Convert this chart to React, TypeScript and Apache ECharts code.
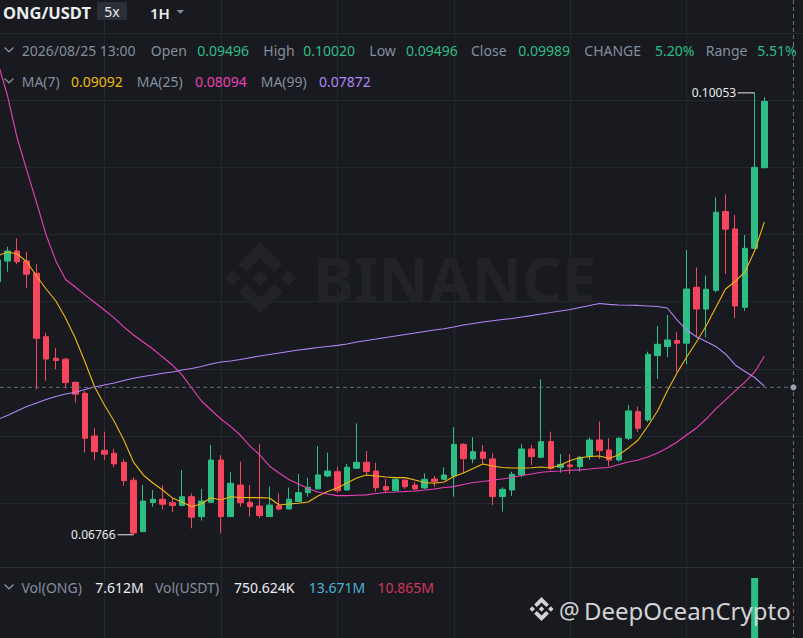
import React, { useEffect, useRef } from "react";
import * as echarts from "echarts";

// ---------- data ----------
const pad = (n: number) => String(n).padStart(2, "0");
const START_UTC = Date.UTC(2026, 7, 22, 6, 0);
const SLOT_COUNT = 84; // 80 candles + empty future slots on the right
const TIMES: string[] = Array.from({ length: SLOT_COUNT }, (_, i) => {
  const d = new Date(START_UTC + i * 3600000);
  return `${d.getUTCFullYear()}/${pad(d.getUTCMonth() + 1)}/${pad(d.getUTCDate())} ${pad(d.getUTCHours())}:00`;
});

const OPEN = [0.08648, 0.08802, 0.08877, 0.08802, 0.08711, 0.08239, 0.08079, 0.08072, 0.07900, 0.07818,
  0.07501, 0.07394, 0.07372, 0.07305, 0.07172, 0.06790, 0.07006, 0.07030, 0.07005, 0.06984,
  0.07049, 0.06901, 0.07008, 0.07322, 0.06901, 0.07136, 0.07008, 0.06980, 0.06901, 0.06982,
  0.06958, 0.07013, 0.07079, 0.07107, 0.07203, 0.07235, 0.07099, 0.07261, 0.07305, 0.07240,
  0.07124, 0.07094, 0.07173, 0.07136, 0.07114, 0.07181, 0.07179, 0.07203, 0.07439, 0.07330,
  0.07382, 0.07330, 0.07050, 0.07099, 0.07211, 0.07404, 0.07343, 0.07459, 0.07268, 0.07285,
  0.07273, 0.07347, 0.07471, 0.07397, 0.07322, 0.07484, 0.07682, 0.07620, 0.08099, 0.08166,
  0.08211, 0.08191, 0.08607, 0.08445, 0.08584, 0.09170, 0.09041, 0.08458, 0.08897, 0.09496];

const HIGH = [0.08825, 0.08909, 0.08971, 0.08872, 0.08780, 0.08270, 0.08155, 0.08083, 0.07905, 0.07836,
  0.07558, 0.07533, 0.07406, 0.07328, 0.07194, 0.07136, 0.07099, 0.07136, 0.07042, 0.07248,
  0.07074, 0.07107, 0.07434, 0.07359, 0.07231, 0.07310, 0.07136, 0.07441, 0.07124, 0.07075,
  0.07117, 0.07218, 0.07190, 0.07426, 0.07377, 0.07272, 0.07292, 0.07595, 0.07389, 0.07302,
  0.07181, 0.07194, 0.07175, 0.07161, 0.07223, 0.07203, 0.07268, 0.07566, 0.07447, 0.07491,
  0.07434, 0.07372, 0.07119, 0.07235, 0.07441, 0.07434, 0.07923, 0.07533, 0.07367, 0.07367,
  0.07352, 0.07491, 0.07608, 0.07484, 0.07491, 0.07731, 0.07719, 0.08128, 0.08319, 0.08401,
  0.08273, 0.08884, 0.08755, 0.08694, 0.09276, 0.09299, 0.09145, 0.08996, 0.10053, 0.10020];

const LOW = [0.08635, 0.08723, 0.08778, 0.08600, 0.07848, 0.07912, 0.07997, 0.07855, 0.07749, 0.07377,
  0.07322, 0.07322, 0.07268, 0.07131, 0.06766, 0.06785, 0.06975, 0.06955, 0.06935, 0.06977,
  0.06814, 0.06871, 0.07005, 0.06777, 0.06899, 0.06975, 0.06901, 0.06889, 0.06899, 0.06946,
  0.06955, 0.07010, 0.07050, 0.07105, 0.07194, 0.07079, 0.07097, 0.07259, 0.07211, 0.07086,
  0.07079, 0.07092, 0.07107, 0.07094, 0.07105, 0.07124, 0.07173, 0.07050, 0.07223, 0.07298,
  0.07292, 0.06987, 0.06938, 0.07054, 0.07194, 0.07285, 0.07335, 0.07248, 0.07228, 0.07218,
  0.07236, 0.07322, 0.07330, 0.07273, 0.07310, 0.07471, 0.07531, 0.07605, 0.07925, 0.08087,
  0.07975, 0.08036, 0.08234, 0.08234, 0.08570, 0.08706, 0.08377, 0.08431, 0.08895, 0.09496];

const CLOSE = [0.08810, 0.08877, 0.08797, 0.08704, 0.08227, 0.08073, 0.08062, 0.07898, 0.07812, 0.07484,
  0.07384, 0.07365, 0.07293, 0.07169, 0.06779, 0.07017, 0.07030, 0.06993, 0.06983, 0.07049,
  0.06897, 0.07017, 0.07322, 0.06901, 0.07149, 0.07005, 0.06975, 0.06909, 0.06987, 0.06958,
  0.07030, 0.07079, 0.07119, 0.07211, 0.07240, 0.07094, 0.07268, 0.07305, 0.07236, 0.07116,
  0.07099, 0.07179, 0.07124, 0.07107, 0.07179, 0.07161, 0.07211, 0.07439, 0.07332, 0.07384,
  0.07335, 0.07050, 0.07104, 0.07216, 0.07404, 0.07347, 0.07459, 0.07261, 0.07290, 0.07273,
  0.07342, 0.07471, 0.07392, 0.07322, 0.07484, 0.07687, 0.07558, 0.08108, 0.08183, 0.08215,
  0.08191, 0.08594, 0.08445, 0.08592, 0.09165, 0.09039, 0.08468, 0.08897, 0.09499, 0.09989];

const MA7 = [0.08840, 0.08869, 0.08855, 0.08797, 0.08691, 0.08594, 0.08505, 0.08379, 0.08230, 0.08051,
  0.07865, 0.07731, 0.07612, 0.07471, 0.07307, 0.07211, 0.07151, 0.07099, 0.07040, 0.07010,
  0.06975, 0.06997, 0.07042, 0.07025, 0.07049, 0.07043, 0.07042, 0.07042, 0.07040, 0.06988,
  0.06995, 0.07000, 0.07010, 0.07055, 0.07088, 0.07114, 0.07151, 0.07188, 0.07211, 0.07203,
  0.07196, 0.07191, 0.07191, 0.07174, 0.07155, 0.07149, 0.07159, 0.07200, 0.07226, 0.07259,
  0.07293, 0.07278, 0.07267, 0.07263, 0.07263, 0.07265, 0.07270, 0.07263, 0.07285, 0.07319,
  0.07339, 0.07348, 0.07352, 0.07335, 0.07360, 0.07412, 0.07471, 0.07575, 0.07687, 0.07836,
  0.07969, 0.08088, 0.08200, 0.08319, 0.08457, 0.08594, 0.08650, 0.08721, 0.08877, 0.09092];

const MA25 = [0.10283, 0.10037, 0.09721, 0.09479, 0.09241, 0.08996, 0.08803, 0.08665, 0.08609, 0.08550,
  0.08494, 0.08438, 0.08379, 0.08312, 0.08252, 0.08200, 0.08148, 0.08088, 0.08029, 0.07955,
  0.07858, 0.07761, 0.07694, 0.07627, 0.07572, 0.07508, 0.07426, 0.07360, 0.07278, 0.07226,
  0.07177, 0.07144, 0.07110, 0.07084, 0.07069, 0.07057, 0.07057, 0.07060, 0.07063, 0.07073,
  0.07081, 0.07084, 0.07088, 0.07092, 0.07099, 0.07107, 0.07118, 0.07124, 0.07140, 0.07155,
  0.07162, 0.07174, 0.07181, 0.07192, 0.07207, 0.07218, 0.07231, 0.07237, 0.07240, 0.07246,
  0.07249, 0.07255, 0.07263, 0.07267, 0.07289, 0.07307, 0.07322, 0.07345, 0.07374, 0.07412,
  0.07456, 0.07508, 0.07560, 0.07627, 0.07702, 0.07769, 0.07836, 0.07902, 0.07977, 0.08094];

const MA99 = [0.07624, 0.07653, 0.07687, 0.07720, 0.07746, 0.07772, 0.07795, 0.07813, 0.07826, 0.07847,
  0.07865, 0.07880, 0.07895, 0.07914, 0.07930, 0.07943, 0.07955, 0.07967, 0.07977, 0.07992,
  0.08003, 0.08018, 0.08036, 0.08051, 0.08059, 0.08070, 0.08083, 0.08096, 0.08107, 0.08118,
  0.08129, 0.08140, 0.08149, 0.08159, 0.08167, 0.08175, 0.08185, 0.08200, 0.08211, 0.08222,
  0.08234, 0.08245, 0.08256, 0.08267, 0.08278, 0.08289, 0.08299, 0.08312, 0.08326, 0.08338,
  0.08349, 0.08358, 0.08367, 0.08375, 0.08386, 0.08396, 0.08408, 0.08419, 0.08431, 0.08442,
  0.08457, 0.08472, 0.08486, 0.08480, 0.08475, 0.08473, 0.08472, 0.08468, 0.08464, 0.08453,
  0.08364, 0.08289, 0.08239, 0.08204, 0.08167, 0.08111, 0.08029, 0.07981, 0.07936, 0.07872];

// volume in millions of ONG
const VOLUME_M = [3.1, 2.4, 2.8, 3.5, 9.8, 5.2, 3.0, 4.1, 3.6, 7.9,
  5.4, 3.8, 3.3, 4.6, 9.2, 6.1, 2.7, 3.0, 2.2, 4.4,
  4.8, 3.9, 7.5, 8.8, 5.6, 4.2, 2.9, 6.3, 3.4, 2.1,
  3.0, 3.6, 2.5, 5.8, 3.3, 3.9, 4.0, 6.2, 3.1, 3.5,
  1.9, 2.3, 1.6, 1.5, 2.4, 1.7, 2.0, 7.3, 3.8, 2.6,
  2.2, 6.4, 3.5, 3.7, 4.5, 2.8, 7.8, 4.6, 2.1, 1.9,
  2.3, 3.4, 4.1, 3.0, 3.6, 5.9, 4.4, 11.2, 6.8, 5.3,
  5.1, 10.5, 7.2, 5.6, 11.9, 10.6, 11.4, 9.7, 29.05, 7.612];

const PRICE_MIN = 0.065;
const PRICE_MAX = 0.1075;
const PRICE_STEP = 0.005;
// only the top of the volume pane is in view
const VOL_VIEW_MIN_M = 16.4;
const VOL_VIEW_MAX_M = 30;
const CROSSHAIR_SLOT = 82;
const CROSSHAIR_PRICE = 0.07863;

const HEADER_STATS = { change: "5.20%", range: "5.51%" };
const VOL_STATS = { volUsdt: "750.624K", ma5: "13.671M", ma10: "10.865M" };

// ---------- style ----------
const BG = "#181a20";
const GRID = "#23272e";
const GREY = "#848e9c";
const WHITE = "#eaecef";
const UP = "#2ebd85";
const DOWN = "#f6465d";
const C_MA7 = "#f0b90b";
const C_MA25 = "#eb40b5";
const C_MA99 = "#b385f8";
const FONT = '"Noto Sans", "DejaVu Sans", sans-serif';

const BAND = 9.705;
const LEFT = -7.22;
const GRID_W = BAND * SLOT_COUNT;

const LOGO_TOP = [[38.73, 53.2], [63.31, 28.63], [87.9, 53.22], [102.2, 38.92], [63.31, 0], [24.43, 38.91]];
const LOGO_LEFT = [[0, 63.31], [14.3, 49.01], [28.6, 63.31], [14.3, 77.61]];
const LOGO_CENTER = [[63.31, 48.99], [77.62, 63.3], [63.31, 77.61], [49.0, 63.3]];
const LOGO_RIGHT = [[98.01, 63.31], [112.31, 49.01], [126.61, 63.31], [112.31, 77.61]];
const LOGO_BOTTOM = [[87.9, 73.39], [63.31, 97.98], [38.73, 73.41], [24.41, 87.69], [63.31, 126.61], [102.2, 87.7]];

function logo(x: number, y: number, size: number, color: string, z: number) {
  const s = size / 126.61;
  return {
    type: "group",
    x,
    y,
    scaleX: s,
    scaleY: s,
    z,
    children: [LOGO_TOP, LOGO_LEFT, LOGO_CENTER, LOGO_RIGHT, LOGO_BOTTOM].map((pts) => ({
      type: "polygon",
      shape: { points: pts },
      style: { fill: color },
      z,
    })),
  };
}

function txt(x: number, y: number, text: string, fill: string, font: string, align = "left", z = 100) {
  return {
    type: "text",
    x,
    y,
    z,
    style: { text, fill, font, textAlign: align, textVerticalAlign: "middle" },
  };
}

function chevron(y: number) {
  return {
    type: "polyline",
    z: 100,
    shape: { points: [[4.5, y - 2.5], [9, y + 1.8], [13.5, y - 2.5]] },
    style: { stroke: GREY, lineWidth: 1.3, fill: null },
  };
}

function buildOption() {
  const candleData = OPEN.map((o, i) => [o, CLOSE[i], LOW[i], HIGH[i]]);
  const volData = VOLUME_M.map((v, i) => ({
    value: v,
    itemStyle: { color: CLOSE[i] >= OPEN[i] ? UP : DOWN },
  }));
  const hiddenAxis = { axisLine: { show: false }, axisTick: { show: false }, axisLabel: { show: false } };
  return {
    backgroundColor: BG,
    animation: false,
    grid: [
      { left: LEFT, width: GRID_W, top: -0.83, height: 571.37, containLabel: false, outerBoundsMode: "none" },
      { left: LEFT, width: GRID_W, top: 573.5, height: 64.5, containLabel: false, outerBoundsMode: "none" },
      { left: LEFT - BAND / 2, width: GRID_W, top: 0, height: 638, containLabel: false, outerBoundsMode: "none" },
    ],
    xAxis: [
      { type: "category", gridIndex: 0, data: TIMES, show: false, boundaryGap: true },
      { type: "category", gridIndex: 1, data: TIMES, show: false, boundaryGap: true },
      {
        type: "value", gridIndex: 2, min: -1, max: SLOT_COUNT - 1, interval: 12, ...hiddenAxis,
        splitLine: { show: true, showMinLine: false, lineStyle: { color: GRID, width: 1 } },
      },
    ],
    yAxis: [
      {
        type: "value", gridIndex: 0, min: PRICE_MIN, max: PRICE_MAX, interval: PRICE_STEP, ...hiddenAxis,
        splitLine: { show: true, showMinLine: false, showMaxLine: false, lineStyle: { color: GRID, width: 1 } },
      },
      { type: "value", gridIndex: 1, min: VOL_VIEW_MIN_M, max: VOL_VIEW_MAX_M, show: false, splitLine: { show: false } },
      { type: "value", gridIndex: 2, min: 0, max: 1, show: false, splitLine: { show: false } },
    ],
    series: [
      {
        type: "bar", xAxisIndex: 1, yAxisIndex: 1, data: volData, barWidth: 7, z: 2, clip: true,
      },
      {
        type: "candlestick", xAxisIndex: 0, yAxisIndex: 0, data: candleData, barWidth: 6, z: 3,
        itemStyle: { color: UP, color0: DOWN, borderColor: UP, borderColor0: DOWN, borderWidth: 1 },
      },
      {
        type: "line", name: "MA7", xAxisIndex: 0, yAxisIndex: 0, data: MA7, showSymbol: false, symbol: "none", z: 4,
        lineStyle: { color: C_MA7, width: 1.1 },
      },
      {
        type: "line", name: "MA25", xAxisIndex: 0, yAxisIndex: 0, data: MA25, showSymbol: false, symbol: "none", z: 4,
        lineStyle: { color: C_MA25, width: 1.1 },
      },
      {
        type: "line", name: "MA99", xAxisIndex: 0, yAxisIndex: 0, data: MA99, showSymbol: false, symbol: "none", z: 4,
        lineStyle: { color: C_MA99, width: 1.1 },
      },
    ],
  };
}

export default function App() {
  const ref = useRef<HTMLDivElement>(null);
  useEffect(() => {
    document.body.style.margin = "0";
    const el = ref.current as HTMLDivElement;
    const chart = echarts.init(el, undefined, { renderer: "svg", width: 803, height: 638 });
    chart.setOption(buildOption() as any);

    const px = (i: number, v: number) => chart.convertToPixel({ gridIndex: 0 } as any, [i, v]) as number[];
    const last = CLOSE.length - 1;
    let hiIdx = 0;
    let loIdx = 0;
    HIGH.forEach((h, i) => { if (h > HIGH[hiIdx]) hiIdx = i; });
    LOW.forEach((l, i) => { if (l < LOW[loIdx]) loIdx = i; });
    const [hx, hy] = px(hiIdx, HIGH[hiIdx]);
    const [lx, ly] = px(loIdx, LOW[loIdx]);
    const [cx, cy] = px(CROSSHAIR_SLOT, CROSSHAIR_PRICE);

    const f5 = (v: number) => v.toFixed(5);
    const F14 = `14px ${FONT}`;
    const elements: any[] = [
      // watermark
      logo(224.5, 242, 72, "#212328", 1),
      txt(313, 279, "BINANCE", "#212328", `bold 62px ${FONT}`, "left", 1),
      // separators
      { type: "line", z: 5, shape: { x1: 0, y1: 567.5, x2: 803, y2: 567.5 }, style: { stroke: "#2b2f36", lineWidth: 1 } },
      // crosshair
      { type: "line", z: 50, shape: { x1: cx, y1: 0, x2: cx, y2: 638 }, style: { stroke: "#6b7079", lineWidth: 1, lineDash: [4, 3] } },
      { type: "line", z: 50, shape: { x1: 0, y1: cy, x2: cx, y2: cy }, style: { stroke: "#6b7079", lineWidth: 1, lineDash: [4, 3] } },
      { type: "circle", z: 51, shape: { cx, cy, r: 3 }, style: { fill: "#9aa0a8" } },
      // max / min labels
      { type: "line", z: 60, shape: { x1: hx - 17, y1: hy, x2: hx, y2: hy }, style: { stroke: WHITE, lineWidth: 1 } },
      txt(hx - 18.5, hy - 0.5, f5(HIGH[hiIdx]), WHITE, `12px ${FONT}`, "right", 60),
      { type: "line", z: 60, shape: { x1: lx - 16, y1: ly, x2: lx, y2: ly }, style: { stroke: WHITE, lineWidth: 1 } },
      txt(lx - 18, ly - 0.5, f5(LOW[loIdx]), WHITE, `12px ${FONT}`, "right", 60),
      // header row 1
      txt(3, 12.5, "ONG/USDT", WHITE, `bold 16.5px ${FONT}`),
      { type: "rect", z: 99, shape: { x: 97, y: 2, width: 30, height: 18, r: 2 }, style: { fill: "#2b2f36" } },
      txt(112, 11.5, "5x", WHITE, F14, "center"),
      txt(150, 12.5, "1H", WHITE, `600 15px ${FONT}`),
      { type: "polygon", z: 100, shape: { points: [[176.5, 10], [184, 10], [180.25, 13.8]] }, style: { fill: GREY } },
      // header row 2
      chevron(50),
      txt(21.7, 50, TIMES[last], GREY, F14),
      txt(150.7, 50, "Open", GREY, F14),
      txt(197.3, 50, f5(OPEN[last]), UP, F14),
      txt(263.3, 50, "High", GREY, F14),
      txt(303.3, 50, f5(HIGH[last]), UP, F14),
      txt(369.3, 50, "Low", GREY, F14),
      txt(406, 50, f5(LOW[last]), UP, F14),
      txt(471, 50, "Close", GREY, F14),
      txt(518.3, 50, f5(CLOSE[last]), UP, F14),
      txt(584.3, 50, "CHANGE", GREY, F14),
      txt(655, 50, HEADER_STATS.change, UP, F14),
      txt(705.7, 50, "Range", GREY, F14),
      txt(757.3, 50, HEADER_STATS.range, UP, F14),
      // header row 3
      chevron(81),
      txt(21.7, 81, "MA(7)", GREY, F14),
      txt(71, 81, f5(MA7[last]), C_MA7, F14),
      txt(136.7, 81, "MA(25)", GREY, F14),
      txt(195, 81, f5(MA25[last]), C_MA25, F14),
      txt(260.7, 81, "MA(99)", GREY, F14),
      txt(319, 81, f5(MA99[last]), C_MA99, F14),
      // volume header
      chevron(587),
      txt(21.5, 587, "Vol(ONG)", GREY, F14),
      txt(95.2, 587, VOLUME_M[last].toFixed(3) + "M", WHITE, F14),
      txt(155, 587, "Vol(USDT)", GREY, F14),
      txt(234, 587, VOL_STATS.volUsdt, WHITE, F14),
      txt(308.8, 587, VOL_STATS.ma5, "#4ab4d8", F14),
      txt(377.4, 587, VOL_STATS.ma10, "#d6335a", F14),
      // author watermark
      logo(529.5, 597, 24, "#d2d3d5", 100),
      txt(559, 610, "@", "#d2d3d5", `23px ${FONT}`),
      txt(584, 610, "DeepOceanCrypto", "#d2d3d5", `24px ${FONT}`),
    ];
    chart.setOption({ graphic: { elements } } as any);
    return () => chart.dispose();
  }, []);
  return <div ref={ref} style={{ width: 803, height: 638 }} />;
}
